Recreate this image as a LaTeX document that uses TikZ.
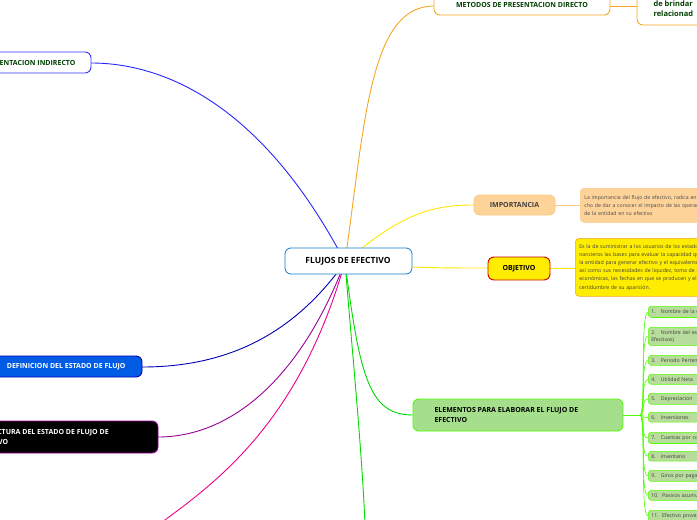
\documentclass[tikz,border=0pt]{standalone}
\usepackage{fontspec}
\setmainfont{Open Sans}
\begin{document}
\begin{tikzpicture}[x=1pt,y=-1pt,
  box/.style={rounded corners=6pt,line width=0.9pt,inner sep=0pt},
  lab/.style={font=\bfseries\fontsize{7}{9}\selectfont},
  small/.style={rounded corners=4pt,line width=0.6pt,font=\fontsize{5.2}{8.2}\selectfont,align=left,inner sep=4pt,anchor=north west},
  item/.style={rounded corners=3pt,draw=green!55!lime,line width=0.6pt,fill=itemg,font=\fontsize{5.2}{7.5}\selectfont,text width=160pt,align=left,inner sep=3pt,anchor=north west,text=black!75},
  conn/.style={line width=0.9pt}]
\definecolor{itemg}{HTML}{B8DC9C}
\definecolor{orl}{HTML}{FDD39A}
\definecolor{ora}{HTML}{F5A623}
\useasboundingbox (0,0) rectangle (697,520);
% connectors
\coordinate (c) at (345,262);
\coordinate (g) at (365,525);
\coordinate (m) at (158,525);
\draw[conn,ora] (c) .. controls (365,120) and (370,6) .. (434,6);
\draw[conn,yellow!90!orange] (c) .. controls (400,215) and (430,205) .. (474,205);
\draw[conn,yellow!90!orange] (c) .. controls (400,268) and (440,268) .. (488,268);
\draw[conn,green!85!black] (c) .. controls (360,380) and (370,415) .. (413,415);
\draw[conn,green!85!black] (c) .. controls (352,350) and (362,450) .. (g);
\draw[conn,blue!85!white] (c) .. controls (260,100) and (160,63) .. (91,63);
\draw[conn,blue!70!black] (c) .. controls (290,340) and (220,367) .. (142,367);
\draw[conn,violet!80!magenta] (c) .. controls (300,380) and (230,437) .. (158,437);
\draw[conn,magenta] (c) .. controls (300,420) and (220,480) .. (m);
\draw[conn,ora] (610,6) -- (637,6);
\draw[conn,orl!80!ora] (555,205) -- (580,205);
\draw[conn,yellow!90!orange] (550,268) -- (575,268);
% center
\draw[box,draw=cyan!60!blue,fill=white,line width=0.8pt] (285,248) rectangle (412,274);
\node[font=\bfseries\fontsize{8.5}{10}\selectfont] (center) at (348,261) {FLUJOS DE EFECTIVO};
% top
\draw[box,draw=ora,fill=white] (434,-6) rectangle (610,15);
\node[lab,text=green!25!black] (met) at (522,5) {METODOS DE PRESENTACION DIRECTO};
\draw[box,draw=ora,fill=white] (637,-10) rectangle (720,25);
\node[font=\bfseries\fontsize{7.5}{10}\selectfont,text=green!25!black,align=left,anchor=north west] (metd) at (650,-3) {de brindar\\relacionad};
% indirecto
\draw[box,draw=blue!80!white,fill=white] (-40,52) rectangle (91,73);
\node[lab,text=green!25!black,anchor=east] (ind) at (79,63) {METODOS DE PRESENTACION INDIRECTO};
% importancia
\draw[box,draw=orl!80!ora,fill=orl] (474,195) rectangle (555,215);
\node[lab,text=black!75] (imp) at (514.5,205) {IMPORTANCIA};
\node[small,draw=orl!80!ora,fill=orl,text width=130pt,minimum height=34pt,text=black!70] (impt) at (580,188) {La importancia del flujo de efectivo, radica en el hecho de dar a conocer el impacto de las operaciones de la entidad en su efectivo};
% objetivo
\draw[box,draw=red!80!black,fill=yellow!95!orange] (488,257) rectangle (550,280);
\node[lab] (obj) at (519,268.5) {OBJETIVO};
\node[small,draw=ora,fill=yellow!95!orange,text width=150pt,minimum height=58pt,text=black!75] (objt) at (575,238) {Es la de suministrar a los usuarios de los estados financieros las bases para evaluar la capacidad que tiene la entidad para generar efectivo y el equivalente a éste, así como sus necesidades de liquidez, toma de decisiones económicas, las fechas en que se producen y el grado de certidumbre de su aparición.};
% elementos
\draw[box,draw=green!60!lime,fill=itemg!90!green] (413,399) rectangle (623,431);
\node[font=\bfseries\fontsize{7}{9.5}\selectfont,align=left,anchor=west] (ele) at (431,415) {ELEMENTOS PARA ELABORAR EL FLUJO DE\\EFECTIVO};
\coordinate (br) at (640,415);
\draw[line width=1pt,green!60!lime] (623,415) -- (br);
\foreach \y/\n/\t in {306/1/{1.\quad Nombre de la empresa},327/2/{2.\quad Nombre del estado (Estado de Flujos de\\Efectivos)},355/3/{3.\quad Periodo Perteneciente},374/4/{4.\quad Utilidad Neta},393/5/{5.\quad Depreciacion},412/6/{6.\quad Inversiones},432/7/{7.\quad Cuentas por cobrar},451/8/{8.\quad Inventario},470/9/{9.\quad Giros por pagar},490/10/{10.\ \ Pasivos acumulados},510/11/{11.\ \ Efectivo proveniente}}{
  \node[item] (i\n) at (648,\y) {\t};
  \draw[green!60!lime,line width=0.6pt] (br) .. controls (646,415) and (640,\y+7) .. (i\n.west);
}
% definicion
\draw[box,draw=blue!70!black,fill=blue!60!cyan!90!black] (-40,356) rectangle (142,377);
\node[lab,text=white,anchor=east] (def) at (129,366.5) {DEFINICION DEL ESTADO DE FLUJO};
% estructura
\draw[box,draw=violet!80!magenta,fill=black] (-40,421) rectangle (158,453);
\node[font=\bfseries\fontsize{7}{10}\selectfont,text=white,align=left,anchor=west] (est) at (-28,437) {ESTRUCTURA DEL ESTADO DE FLUJO DE\\EFECTIVO};
\end{tikzpicture}
\end{document}
